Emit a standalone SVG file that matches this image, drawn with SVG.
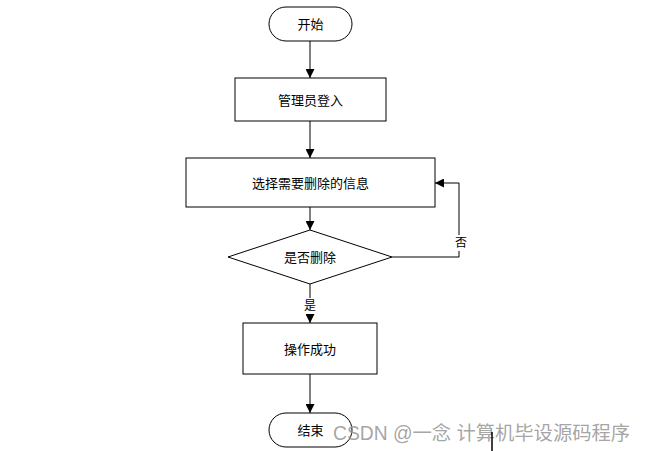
<svg xmlns="http://www.w3.org/2000/svg" width="646" height="451" viewBox="0 0 646 451">
<style>
.n{fill:#fff;stroke:#000;stroke-width:1}
.t{font-family:"Liberation Sans","Noto Sans CJK SC",sans-serif;font-size:13px;fill:#000;text-anchor:middle;dominant-baseline:central}
.c{fill:none;stroke:#000;stroke-width:1}
.wm{font-family:"Liberation Sans","Noto Sans CJK SC",sans-serif;font-size:19.3px;fill:#9a9a9a;fill-opacity:0.9}
</style>
<defs>
<marker id="a" viewBox="0 0 10 10" refX="10" refY="5" markerWidth="9" markerHeight="9" markerUnits="userSpaceOnUse" orient="auto">
<path d="M0,0 L10,5 L0,10 Z" fill="#000"/>
</marker>
</defs>
<rect width="646" height="451" fill="#fff"/>
<g id="connectors">
<line class="c" x1="310" y1="41" x2="310" y2="78" marker-end="url(#a)"/>
<line class="c" x1="310" y1="121" x2="310" y2="158" marker-end="url(#a)"/>
<line class="c" x1="310" y1="207" x2="310" y2="230" marker-end="url(#a)"/>
<polyline class="c" points="392,257 459,257 459,183 435,183" marker-end="url(#a)"/>
<line class="c" x1="310" y1="284" x2="310" y2="323" marker-end="url(#a)"/>
<line class="c" x1="310" y1="374" x2="310" y2="413" marker-end="url(#a)"/>
<rect x="453" y="235" width="14" height="16" fill="#fff"/>
<text class="t" x="461" y="243" style="font-size:12px">否</text>
<rect x="303" y="298" width="14" height="16" fill="#fff"/>
<text class="t" x="310" y="306" style="font-size:12px">是</text>
</g>
<g id="start">
<rect class="n" x="269" y="7" width="83" height="34" rx="17"/>
<text class="t" x="310.5" y="24">开始</text>
</g>
<g id="login">
<rect class="n" x="235" y="78" width="151" height="43"/>
<text class="t" x="310.5" y="100">管理员登入</text>
</g>
<g id="select">
<rect class="n" x="186" y="158" width="249" height="49"/>
<text class="t" x="310.5" y="183">选择需要删除的信息</text>
</g>
<g id="decision">
<polygon class="n" points="310,230 392,257 310,284 228,257"/>
<text class="t" x="310" y="257">是否删除</text>
</g>
<g id="success">
<rect class="n" x="243" y="323" width="134" height="51"/>
<text class="t" x="310" y="349">操作成功</text>
</g>
<g id="end">
<rect class="n" x="269" y="413" width="83" height="34" rx="17"/>
<text class="t" x="310.5" y="430">结束</text>
</g>
<text class="wm" x="333" y="440">CSDN @一念 计算机毕设源码程序</text>
<line x1="492" y1="432" x2="492" y2="451" stroke="#000" stroke-width="1.5"/>
</svg>
